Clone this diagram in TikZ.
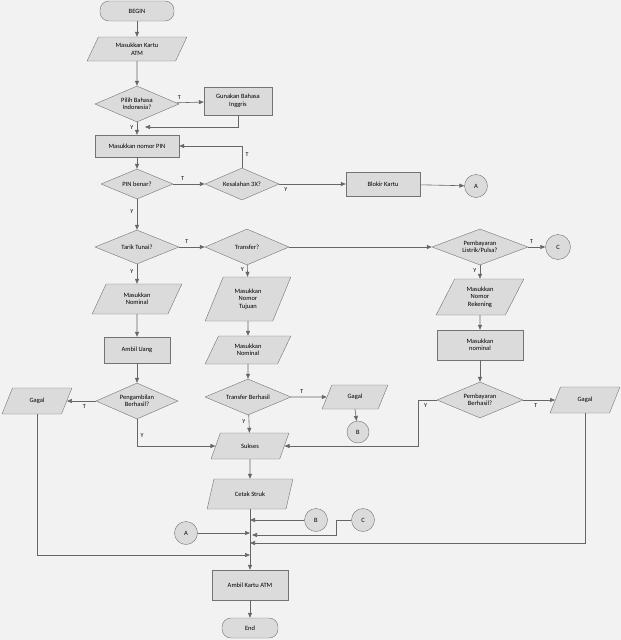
\documentclass[tikz,border=0pt]{standalone}
\usepackage{fontspec}
\setmainfont{Carlito}
\usetikzlibrary{shapes.geometric,arrows.meta}
\begin{document}
\begin{tikzpicture}[x=1pt,y=-1pt,
  base/.style={draw=black!55,fill=black!14,font=\fontsize{6.5}{7.5}\selectfont,align=center,inner sep=1pt},
  term/.style={base,rounded corners=9pt,minimum height=20pt},
  io/.style={base,trapezium,trapezium left angle=65,trapezium right angle=115,trapezium stretches=true},
  proc/.style={base,rectangle},
  dec/.style={base,diamond,aspect=2.3,shape aspect=2.3,inner sep=0pt},
  con/.style={base,circle,minimum size=23pt},
  ln/.style={draw=black!60,line width=0.6pt},
  ar/.style={ln,-{Triangle[length=5pt,width=4pt]}},
  lb/.style={font=\fontsize{6}{7}\selectfont}]
\fill[black!5] (0,0) rectangle (621,640);
\node[term,minimum width=74pt] (begin) at (137,11) {BEGIN};
\node[io,minimum width=100pt,minimum height=24pt] (kartu) at (137,49) {Masukkan Kartu\\ATM};
\node[dec,minimum width=84pt,minimum height=36pt] (bahasa) at (137,104) {Pilih Bahasa\\Indonesia?};
\node[proc,minimum width=68pt,minimum height=28pt] (inggris) at (238,101) {Gunakan Bahasa\\Inggris};
\node[proc,minimum width=84pt,minimum height=22pt] (pin) at (137,146) {Masukkan nomor PIN};
\node[dec,minimum width=72pt,minimum height=30pt] (benar) at (137,184) {PIN benar?};
\node[dec,minimum width=74pt,minimum height=32pt] (salah) at (242,184) {Kesalahan 3X?};
\node[proc,minimum width=74pt,minimum height=24pt] (blokir) at (383,184) {Blokir Kartu};
\node[con] (a1) at (476,186) {A};
\node[dec,minimum width=84pt,minimum height=34pt] (tarik) at (137,247) {Tarik Tunai?};
\node[dec,minimum width=84pt,minimum height=36pt] (transfer) at (247,247) {Transfer?};
\node[dec,minimum width=96pt,minimum height=36pt] (bayar) at (480,247) {Pembayaran\\Listrik/Pulsa?};
\node[con,minimum size=25pt] (c1) at (558,247) {C};
\node[io,minimum width=90pt,minimum height=30pt] (nom1) at (137,299) {Masukkan\\Nominal};
\node[proc,minimum width=66pt,minimum height=26pt] (ambil) at (137,350) {Ambil Uang};
\node[dec,minimum width=82pt,minimum height=36pt] (peng) at (137,401) {Pengambilan\\Berhasil?};
\node[io,minimum width=70pt,minimum height=26pt] (gagal1) at (37,401) {Gagal};
\node[io,minimum width=86pt,minimum height=44pt] (tujuan) at (248,299) {Masukkan\\Nomor\\Tujuan};
\node[io,minimum width=86pt,minimum height=28pt] (nom2) at (248,350) {Masukkan\\Nominal};
\node[dec,minimum width=86pt,minimum height=36pt] (tb) at (248,397) {Transfer Berhasil};
\node[io,minimum width=66pt,minimum height=24pt] (gagal2) at (355,397) {Gagal};
\node[con,minimum size=22pt] (b1) at (358,432) {B};
\node[io,minimum width=78pt,minimum height=26pt] (sukses) at (250,446) {Sukses};
\node[io,minimum width=88pt,minimum height=36pt] (rek) at (480,297) {Masukkan\\Nomor\\Rekening};
\node[proc,minimum width=86pt,minimum height=30pt] (nom3) at (480,345) {Masukkan\\nominal};
\node[dec,minimum width=86pt,minimum height=36pt] (pb) at (480,400) {Pembayaran\\Berhasil?};
\node[io,minimum width=70pt,minimum height=26pt] (gagal3) at (585,400) {Gagal};
\node[io,minimum width=86pt,minimum height=30pt] (cetak) at (250,494) {Cetak Struk};
\node[con] (b2) at (316,520) {B};
\node[con] (c2) at (363,520) {C};
\node[con] (a2) at (186,533) {A};
\node[proc,minimum width=76pt,minimum height=30pt] (kartuatm) at (250,585) {Ambil Kartu ATM};
\node[term,minimum width=56pt] (end) at (250,628) {End};
\coordinate (j1) at (250,520);
\coordinate (j2) at (250,533);
\coordinate (j3) at (250,543);
\coordinate (j4) at (250,555);
% flow
\draw[ar] (begin) -- (kartu);
\draw[ar] (kartu) -- (bahasa);
\draw[ar] (bahasa) -- node[lb,above,pos=0.1]{T} (inggris);
\draw[ar] (bahasa) -- node[lb,left,pos=0.4]{Y} (pin);
\draw[ar] (inggris.south) |- (145,127);
\draw[ar] (pin) -- (benar);
\draw[ar] (benar) -- node[lb,above,pos=0.3]{T} (salah);
\draw[ar] (salah.north) |- node[lb,right,pos=0.3]{T} (pin.east);
\draw[ar] (salah) -- node[lb,below,pos=0.1]{Y} (blokir);
\draw[ar] (blokir) -- (a1);
\draw[ar] (benar) -- node[lb,left,pos=0.4]{Y} (tarik);
\draw[ar] (tarik) -- node[lb,above,pos=0.3]{T} (transfer);
\draw[ar] (transfer) -- (bayar);
\draw[ar] (bayar) -- node[lb,above,pos=0.2]{T} (c1);
\draw[ar] (tarik) -- node[lb,left,pos=0.4]{Y} (nom1);
\draw[ar] (nom1) -- (ambil);
\draw[ar] (ambil) -- (peng);
\draw[ar] (peng) -- node[lb,below,pos=0.4]{T} (gagal1);
\draw[ar] (peng.south) |- node[lb,right,pos=0.3]{Y} (sukses.west);
\draw[ar] (transfer) -- node[lb,left,pos=0.4]{Y} (tujuan);
\draw[ar] (tujuan) -- (nom2);
\draw[ar] (nom2) -- (tb);
\draw[ar] (tb) -- node[lb,above,pos=0.3]{T} (gagal2);
\draw[ar] (gagal2.south) -- (b1);
\draw[ar] (tb) -- node[lb,left,pos=0.4]{Y} (sukses);
\draw[ar] (bayar) -- node[lb,left,pos=0.4]{Y} (rek);
\draw[ar] (rek) -- (nom3);
\draw[ar] (nom3) -- (pb);
\draw[ar] (pb.west) -- node[lb,below,pos=0.6]{Y} (418,400) |- (sukses.east);
\draw[ar] (pb) -- node[lb,below,pos=0.4]{T} (gagal3);
\draw[ar] (sukses) -- (cetak);
\draw[ln] (cetak) -- (j1);
\draw[ar] (j1) -- (kartuatm);
\draw[ar] (b2) -- (j1);
\draw[ar] (c2.west) -- (336,520) -- (336,535) -- (252,535);
\draw[ar] (a2) -- (j2);
\draw[ar] (gagal3.south) |- (j3);
\draw[ar] (gagal1.south) |- (j4);
\draw[ar] (kartuatm) -- (end);
\end{tikzpicture}
\end{document}
